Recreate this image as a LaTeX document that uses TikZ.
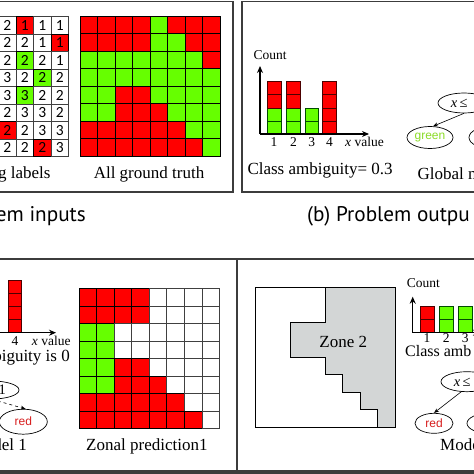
\documentclass[tikz,border=0pt]{standalone}
\usepackage{fontspec}
\setmainfont{Liberation Serif}
\newfontfamily\arialfont{Liberation Sans}
\newfontfamily\calfont{Carlito}
\newfontfamily\capfont{PT Sans}
\usetikzlibrary{arrows.meta,shapes.geometric}
\definecolor{gtred}{RGB}{255,0,0}
\definecolor{gtgreen}{RGB}{102,255,0}
\definecolor{zonegray}{RGB}{211,214,214}
\definecolor{panelline}{RGB}{60,60,60}
\definecolor{leafgreen}{RGB}{140,220,40}
\definecolor{leafred}{RGB}{215,30,30}
\tikzset{
  panel/.style={draw=panelline, line width=1.2pt},
  cellR/.style={fill=gtred, draw=black, line width=0.7pt},
  cellG/.style={fill=gtgreen, draw=black, line width=0.7pt},
  cellW/.style={fill=white, draw=black!75, line width=0.7pt},
  barR/.style={fill=gtred, draw=black!70!red, line width=0.6pt},
  barG/.style={fill=gtgreen, draw=black!70!green, line width=0.6pt},
  caption/.style={font=\fontsize{17}{20}\selectfont, inner sep=0pt},
  subcap/.style={font=\capfont\fontsize{21.2}{24}\selectfont, inner sep=0pt},
  small/.style={font=\fontsize{13.5}{16}\selectfont, inner sep=0pt},
  leaf/.style={ellipse, draw=black, line width=0.7pt, inner sep=0pt,
    font=\fontsize{14.5}{16}\selectfont},
  leaftext/.style={font=\arialfont\fontsize{12}{14}\selectfont},
  axis/.style={line width=1.2pt, -{Stealth[length=7pt,width=6pt]}},
  branch/.style={line width=0.6pt, -{Stealth[length=5pt,width=4pt]}}
}

\begin{document}
\begin{tikzpicture}[x=1pt, y=-1pt]
  \useasboundingbox (0,0) rectangle (474,474);
  \clip (0,0) rectangle (474,474);
  \fill[white] (0,0) rectangle (474,474);

  % panels
  \draw[panel] (-5,1.5) rectangle (233,192);
  \draw[panel] (242,1.5) rectangle (480,192);
  \draw[panel] (-5,259) rectangle (480,471);
  \draw[panel] (237,259) -- (237,471);
  \draw[panelline, line width=2.5pt] (-5,472.8) -- (480,472.8);

  % training labels
  \foreach \row [count=\j from 0] in {{2/W,1/R,1/W,1/W},{2/W,2/W,1/W,1/R},
      {2/W,2/G,2/W,1/W},{3/W,2/W,2/G,2/W},{3/W,3/G,2/W,2/W},
      {2/W,3/W,3/W,2/W},{2/R,2/W,3/W,3/W},{2/W,2/W,2/R,3/W}}
    \foreach \v/\c [count=\i from 0] in \row
      \node[cell\c, minimum size=17.5pt, inner sep=0pt, anchor=north west,
        font=\calfont\fontsize{15.5}{15}\selectfont] (lab-\j-\i)
        at ({-1.7+17.5*\i},{16+17.5*\j}) {\v};
  \node[caption, anchor=base east] (labcap) at (50.7,178.3) {g labels};

  % ground truth
  \foreach \row [count=\j from 0] in {{R,R,R,R,G,R,R,R},{R,R,R,R,G,G,R,R},
      {G,G,G,G,G,G,G,R},{G,G,G,G,G,G,G,G},{G,G,R,R,G,G,G,G},
      {G,G,R,R,R,G,G,G},{R,R,R,R,R,R,G,G},{R,R,R,R,R,R,R,G}}
    \foreach \c [count=\i from 0] in \row
      \path[cell\c] ({80+17.5*\i},{16+17.5*\j}) rectangle +(17.5,17.5);
  \node[caption, anchor=base] (gtcap) at (149,178.3) {All ground truth};

  \node[subcap, anchor=base east] (capa) at (86,221.7) {em inputs};
  \node[subcap, anchor=base west] (capb) at (307,221.7) {(b) Problem outpu};

  % global histogram
  \coordinate (h1o) at (260,134);
  \coordinate (h1y) at (260,66);
  \coordinate (h1x) at (369,134);
  \foreach \bx/\stack in {267.3/{G,G,R,R},286.7/{G,G,R,R},305/{G,G},322.7/{R,R,R,R}}
    \foreach \c [count=\k from 1] in \stack
      \path[bar\c] (\bx,{134-13.1*\k}) rectangle +(13.5,13.1);
  \draw[axis] (h1o) -- (h1y);
  \draw[axis] (h1o) -- (h1x);
  \foreach \t/\tx in {1/274,2/293.4,3/311.7,4/329.4}
    \node[small, anchor=base] (h1t\t) at (\tx,146.7) {\t};
  \node[small, anchor=base west] (h1xl) at (345,146.7) {\textit{x} value};
  \node[small, anchor=base west] (h1cnt) at (253.3,59.3) {Count};
  \node[caption, anchor=base west] (amb1) at (247.3,174) {Class ambiguity= 0.3};

  % global tree
  \node[leaf, minimum width=52pt, minimum height=20pt] (groot) at (464,103)
    {\textit{x}\,≤\phantom{\,2}};
  \node[leaf, leaftext, text=leafgreen, minimum width=46pt, minimum height=22pt]
    (ggreen) at (430,137.5) {green};
  \node[leaf, minimum width=44pt, minimum height=22pt] (gright) at (491,137.5) {};
  \draw[branch] (groot.south) -- (ggreen.75);
  \node[caption, anchor=base west] (glob) at (417.3,179.3) {Global m};

  % zone 1 histogram and tree
  \coordinate (h2o) at (-5,332.7);
  \coordinate (h2x) at (56,332.7);
  \foreach \k in {1,...,4}
    \path[barR] (8.3,{332.7-13*\k}) rectangle +(13.4,13);
  \draw[axis] (h2o) -- (h2x);
  \node[small, anchor=base] (h2t4) at (15,345) {4};
  \node[small, anchor=base west] (h2xl) at (31.7,345) {\textit{x} value};
  \node[caption, anchor=base east] (amb2) at (70,361.7) {biguity is 0};
  \node[leaf, minimum width=54pt, minimum height=18pt] (m1root) at (-8,390)
    {\phantom{\textit{x}\,≤ }1};
  \node[leaf, leaftext, text=leafred, minimum width=48pt, minimum height=25pt]
    (m1red) at (23.3,421.7) {red};
  \draw[branch, dashed] (m1root.south) -- (m1red.80);
  \node[caption, anchor=base east] (mod1) at (27,450) {del 1};

  % zonal prediction
  \foreach \row [count=\j from 0] in {{R,R,R,R,W,W,W,W},{R,R,R,R,W,W,W,W},
      {G,G,W,W,W,W,W,W},{G,G,W,W,W,W,W,W},{G,G,R,R,W,W,W,W},
      {G,G,R,R,R,W,W,W},{R,R,R,R,R,R,W,W},{R,R,R,R,R,R,R,W}}
    \foreach \c [count=\i from 0] in \row
      \path[cell\c] ({79+17.55*\i},{288.3+17.55*\j}) rectangle +(17.55,17.55);
  \node[caption, anchor=base west] (zcap) at (86,450) {Zonal prediction1};

  % zone 2
  \begin{scope}[shift={(255,287.3)}, x=17.5pt, y=-17.5pt]
    \filldraw[fill=zonegray, line width=1pt] (4,0) -- (8,0) -- (8,8) -- (7,8)
      -- (7,7) -- (6,7) -- (6,6) -- (5,6) -- (5,5) -- (4,5) -- (4,4)
      -- (2,4) -- (2,2) -- (4,2) -- cycle;
    \draw[line width=1pt] (0,0) rectangle (8,8);
  \end{scope}
  \node[caption] (zone2) at (343.3,341.7) {Zone 2};

  % zone 2 histogram and tree
  \coordinate (h3o) at (412.7,332.7);
  \coordinate (h3y) at (412.7,296.7);
  \coordinate (h3x) at (480,332.7);
  \foreach \bx/\stack in {420/{R,R},439.3/{G,G},458.3/{G,G}}
    \foreach \c [count=\k from 1] in \stack
      \path[bar\c] (\bx,{332.7-13*\k}) rectangle +(14,13);
  \draw[axis] (h3o) -- (h3y);
  \draw[axis] (h3o) -- (h3x);
  \foreach \t/\tx in {1/427,2/446.3,3/465.3}
    \node[small, anchor=base] (h3t\t) at (\tx,342.5) {\t};
  \node[small, anchor=base west] (h3cnt) at (406.7,287.3) {Count};
  \node[caption, font=\fontsize{16}{19}\selectfont, anchor=base west] (amb3)
    at (405,356.5) {Class amb};
  \node[leaf, minimum width=52pt, minimum height=20pt] (m2root) at (467,381.7)
    {\textit{x}\,≤\phantom{\,2}};
  \node[leaf, leaftext, text=leafred, minimum width=38pt, minimum height=20pt]
    (m2red) at (434,423.3) {red};
  \node[leaf, minimum width=44pt, minimum height=20pt] (m2right) at (489,423.3) {};
  \draw[branch] (m2root.-120) -- (m2red.north);
  \node[caption, anchor=base west] (mod2) at (440,450) {Mode};
\end{tikzpicture}
\end{document}
